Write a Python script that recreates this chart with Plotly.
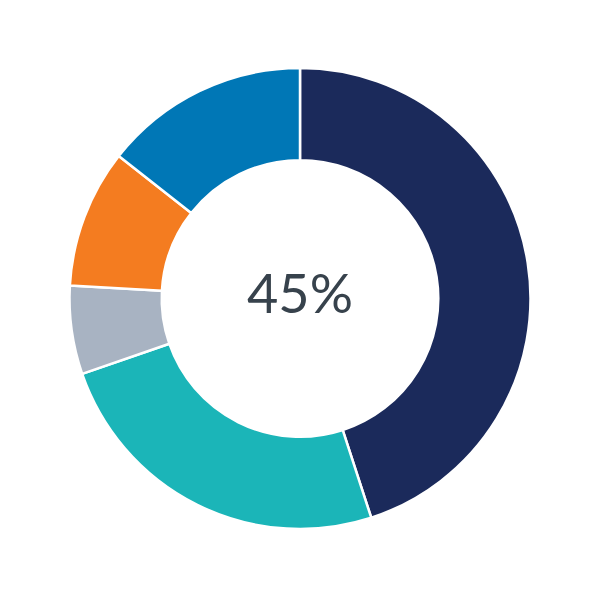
import plotly.graph_objects as go

# donut segments, clockwise from 12 o'clock
labels = ['A', 'B', 'C', 'D', 'E']
values = [45, 24.7, 6.2, 9.7, 14.4]
colors = ['#1b2a5b', '#1bb5b8', '#a8b3c2', '#f47c20', '#0077b6']
center_text = '45%'

fig = go.Figure()
fig.add_trace(go.Pie(
    labels=labels,
    values=values,
    hole=0.6,
    sort=False,
    direction='clockwise',
    rotation=0,
    marker=dict(colors=colors, line=dict(color='white', width=2.5)),
    textinfo='none',
    hoverinfo='label+percent',
    showlegend=False,
))

# page body has an 8px margin, so pull the plot up/left a bit
fig.update_layout(
    width=600,
    height=599,
    margin=dict(l=61, r=77, t=60, b=78),
    paper_bgcolor='white',
    plot_bgcolor='white',
    annotations=[dict(
        text=center_text,
        x=0.5, y=0.5, xref='paper', yref='paper',
        yshift=6,
        showarrow=False,
        font=dict(family='Lato', size=54, color='#37424c'),
    )],
)

fig.write_html('out.html')
